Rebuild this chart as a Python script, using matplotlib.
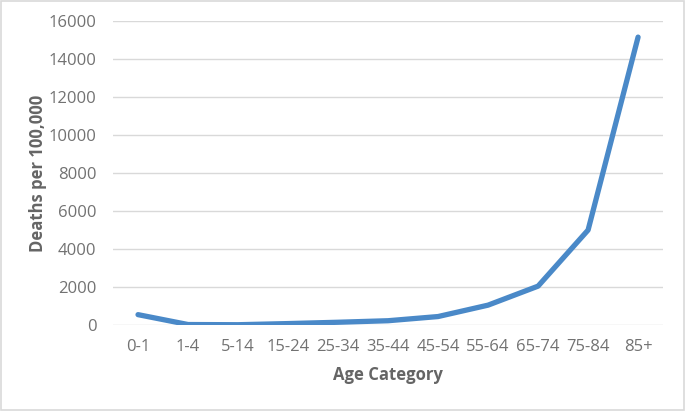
import matplotlib.pyplot as plt
from matplotlib.patches import Rectangle

# Death rate by age group
age_groups = ["0-1", "1-4", "5-14", "15-24", "25-34", "35-44",
              "45-54", "55-64", "65-74", "75-84", "85+"]
deaths_per_100k = [550, 30, 20, 80, 150, 230, 450, 1050, 2050, 5000, 15150]
y_ticks = [0, 2000, 4000, 6000, 8000, 10000, 12000, 14000, 16000]

plt.rcParams['font.family'] = ['Open Sans', 'DejaVu Sans']

fig = plt.figure(figsize=(6.85, 4.11), dpi=100)
ax = fig.add_axes([0.165, 0.209, 0.803, 0.740])

x = list(range(len(age_groups)))
ax.plot(x, deaths_per_100k, color='#4a89c8', linewidth=3.8,
        solid_capstyle='round', solid_joinstyle='round', zorder=3)

ax.set_xlim(-0.5, len(age_groups) - 0.5)
ax.set_ylim(0, 16000)
ax.set_yticks(y_ticks)
ax.set_xticks(x)
ax.set_xticklabels(age_groups)
ax.grid(axis='y', color='#d9d9d9', linewidth=1)
ax.set_axisbelow(True)
for s in ax.spines.values():
    s.set_visible(False)
ax.tick_params(length=0, labelsize=12, colors='#727272', pad=10)
ax.tick_params(axis='y', pad=12)

ax.set_xlabel("Age Category", fontsize=12, fontweight='bold', color='#656565', labelpad=8)
ax.set_ylabel("Deaths per 100,000", fontsize=12, fontweight='bold', color='#656565', labelpad=1)

# light frame around the whole chart
fig.patches.append(Rectangle((0.002, 0.003), 0.996, 0.994, transform=fig.transFigure,
                             fill=False, edgecolor='#d9d9d9', linewidth=1.2))

fig.savefig("out.png", dpi=100)
